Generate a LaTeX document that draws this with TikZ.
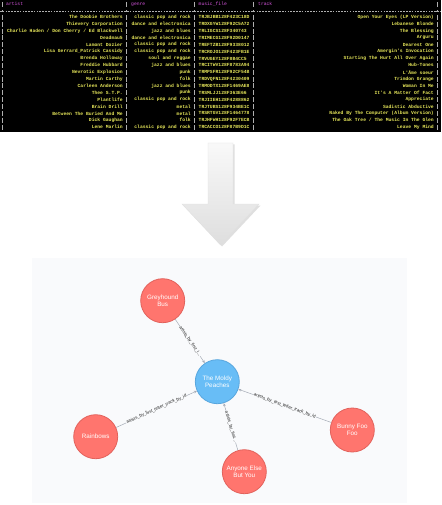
\documentclass[tikz,border=0pt]{standalone}
\usepackage{fontspec}
\setmainfont{Liberation Sans}
\newfontfamily\termfont{Liberation Mono}
\usetikzlibrary{arrows.meta}
\definecolor{termyellow}{RGB}{230,230,90}
\definecolor{termmag}{RGB}{214,86,222}
\definecolor{termbar}{RGB}{175,175,175}
\definecolor{panelbg}{RGB}{249,250,252}
\definecolor{redfill}{RGB}{255,117,110}
\definecolor{redline}{RGB}{226,98,92}
\definecolor{bluefill}{RGB}{104,189,246}
\definecolor{blueline}{RGB}{88,166,222}
\definecolor{edgecol}{RGB}{165,171,182}
\tikzset{
  cell/.style={inner sep=0pt, text=termyellow, font=\termfont\bfseries\fontsize{4.7}{5}\selectfont},
  hcell/.style={inner sep=0pt, text=termmag, anchor=west, font=\termfont\fontsize{4.7}{5}\selectfont},
  bar/.style={draw=termbar, line width=0.5pt},
  gnode/.style={circle, minimum size=44pt, inner sep=0pt, line width=0.8pt, text=white, align=center,
    font=\fontsize{6.3}{7.3}\selectfont},
  rnode/.style={gnode, fill=redfill, draw=redline},
  bnode/.style={gnode, fill=bluefill, draw=blueline},
  edge/.style={draw=edgecol, line width=0.5pt, -{Stealth[length=3pt,width=2.6pt]}},
  elabel/.style={sloped, fill=panelbg, inner sep=0.4pt, text=black!88, font=\fontsize{4.4}{4.6}\selectfont}
}
\newcommand\tabrow[5]{%
  \node[cell, anchor=east] (a#1) at (123,{17.3+6.86*(#1-1)}) {#2};
  \node[cell, anchor=east] (g#1) at (191,{17.3+6.86*(#1-1)}) {#3};
  \node[cell, anchor=west] (f#1) at (198.5,{17.3+6.86*(#1-1)}) {#4};
  \node[cell, anchor=east] (t#1) at (434,{17.3+6.86*(#1-1)}) {#5};
}
\begin{document}
\begin{tikzpicture}[x=1pt,y=-1pt]
\useasboundingbox (0,0) rectangle (441,505);
\fill[white] (0,0) rectangle (441,505);
% terminal table
\fill[black] (0,0) rectangle (441,132);
\node[hcell] (h1) at (6,4.3) {artist};
\node[hcell] (h2) at (131,4.3) {genre};
\node[hcell] (h3) at (198.5,4.3) {music\_file};
\node[hcell] (h4) at (258,4.3) {track};
\draw[termbar, line width=0.5pt, dash pattern=on 1.6pt off 1.22pt] (0,11) -- (441,11);
\foreach \x in {2,126,194,253,437} {
  \draw[bar] (\x,1.8) -- (\x,6.8);
  \draw[termbar, line width=0.4pt] (\x-1.2,11) -- (\x+1.2,11) (\x,9.8) -- (\x,12.2);
  \foreach \r in {1,...,17} {
    \draw[bar] ({\x},{17.3+6.86*(\r-1)-2.5}) -- ({\x},{17.3+6.86*(\r-1)+2.5});
  }
}
\tabrow{1}{The Doobie Brothers}{classic pop and rock}{TRJBJBB128F423C18D}{Open Your Eyes (LP Version)}
\tabrow{2}{Thievery Corporation}{dance and electronica}{TRDXGYW128F92C5A72}{Lebanese Blonde}
\tabrow{3}{Charlie Haden / Don Cherry / Ed Blackwell}{jazz and blues}{TRLIGCS128F340743}{The Blessing}
\tabrow{4}{Deadmau5}{dance and electronica}{TRIMECG128F92D0147}{Arguru}
\tabrow{5}{Lamont Dozier}{classic pop and rock}{TREFTZB128F9338012}{Dearest One}
\tabrow{6}{Lisa Gerrard\_Patrick Cassidy}{classic pop and rock}{TRCROJO128F423FB1E}{Amergin's Invocation}
\tabrow{7}{Brenda Holloway}{soul and reggae}{TRVUGEY128F8B4CC5}{Starting The Hurt All Over Again}
\tabrow{8}{Freddie Hubbard}{jazz and blues}{TRCITWV128F8783A94}{Hub-Tones}
\tabrow{9}{Nevrotic Explosion}{punk}{TRMPSFR128F92CF54B}{L'Âme soeur}
\tabrow{10}{Martin Carthy}{folk}{TRDVQFN128F4230409}{Trimdon Grange}
\tabrow{11}{Carleen Anderson}{jazz and blues}{TRMODTX128F1469AE8}{Woman In Me}
\tabrow{12}{Thee S.T.P.}{punk}{TRSMLJJ128F363E66}{It's A Matter Of Fact}
\tabrow{13}{Plantlife}{classic pop and rock}{TRJIIEH128F4288862}{Appreciate}
\tabrow{14}{Brain Drill}{metal}{TRJTUBS128F934BE1C}{Sadistic Abductive}
\tabrow{15}{Between The Buried And Me}{metal}{TRSRTGV128F1464778}{Naked By The Computer (Album Version)}
\tabrow{16}{Dick Gaughan}{folk}{TRJHFWH128F92F7ECB}{The Oak Tree / The Music In The Glen}
\tabrow{17}{Lene Marlin}{classic pop and rock}{TRCACCO128F87B9D1C}{Leave My Mind}
% big down arrow
\fill[gray!25] (209.5,144.5) -- (234.5,144.5) -- (234.5,205.5) -- (260.5,205.5) -- (222,246.5) -- (183.5,205.5) -- (209.5,205.5) -- cycle;
\shade[top color=gray!5, bottom color=gray!26, draw=gray!24, line width=0.3pt]
  (208,143) -- (233,143) -- (233,204) -- (259,204) -- (220.5,245) -- (182,204) -- (208,204) -- cycle;
% graph panel
\fill[panelbg] (32,258) rectangle (407,503);
\node[rnode] (G) at (162.7,300.7) {Greyhound\\Bus};
\node[bnode] (M) at (217.3,381.7) {The Moldy\\Peaches};
\node[rnode] (R) at (95.7,436.7) {Rainbows};
\node[rnode] (A) at (244.3,471.7) {Anyone Else\\But You};
\node[rnode] (B) at (352.3,430) {Bunny Foo\\Foo};
\draw[edge] (G) -- node[elabel] (lG) {artists\_by\_first\_l...} (M);
\draw[edge] (R) -- node[elabel] (lR) {artists\_by\_first\_letter\_track\_by\_id} (M);
\draw[edge] (A) -- node[elabel] (lA) {artists\_by\_first...} (M);
\draw[edge] (B) -- node[elabel] (lB) {artists\_by\_first\_letter\_track\_by\_id} (M);
\end{tikzpicture}
\end{document}
